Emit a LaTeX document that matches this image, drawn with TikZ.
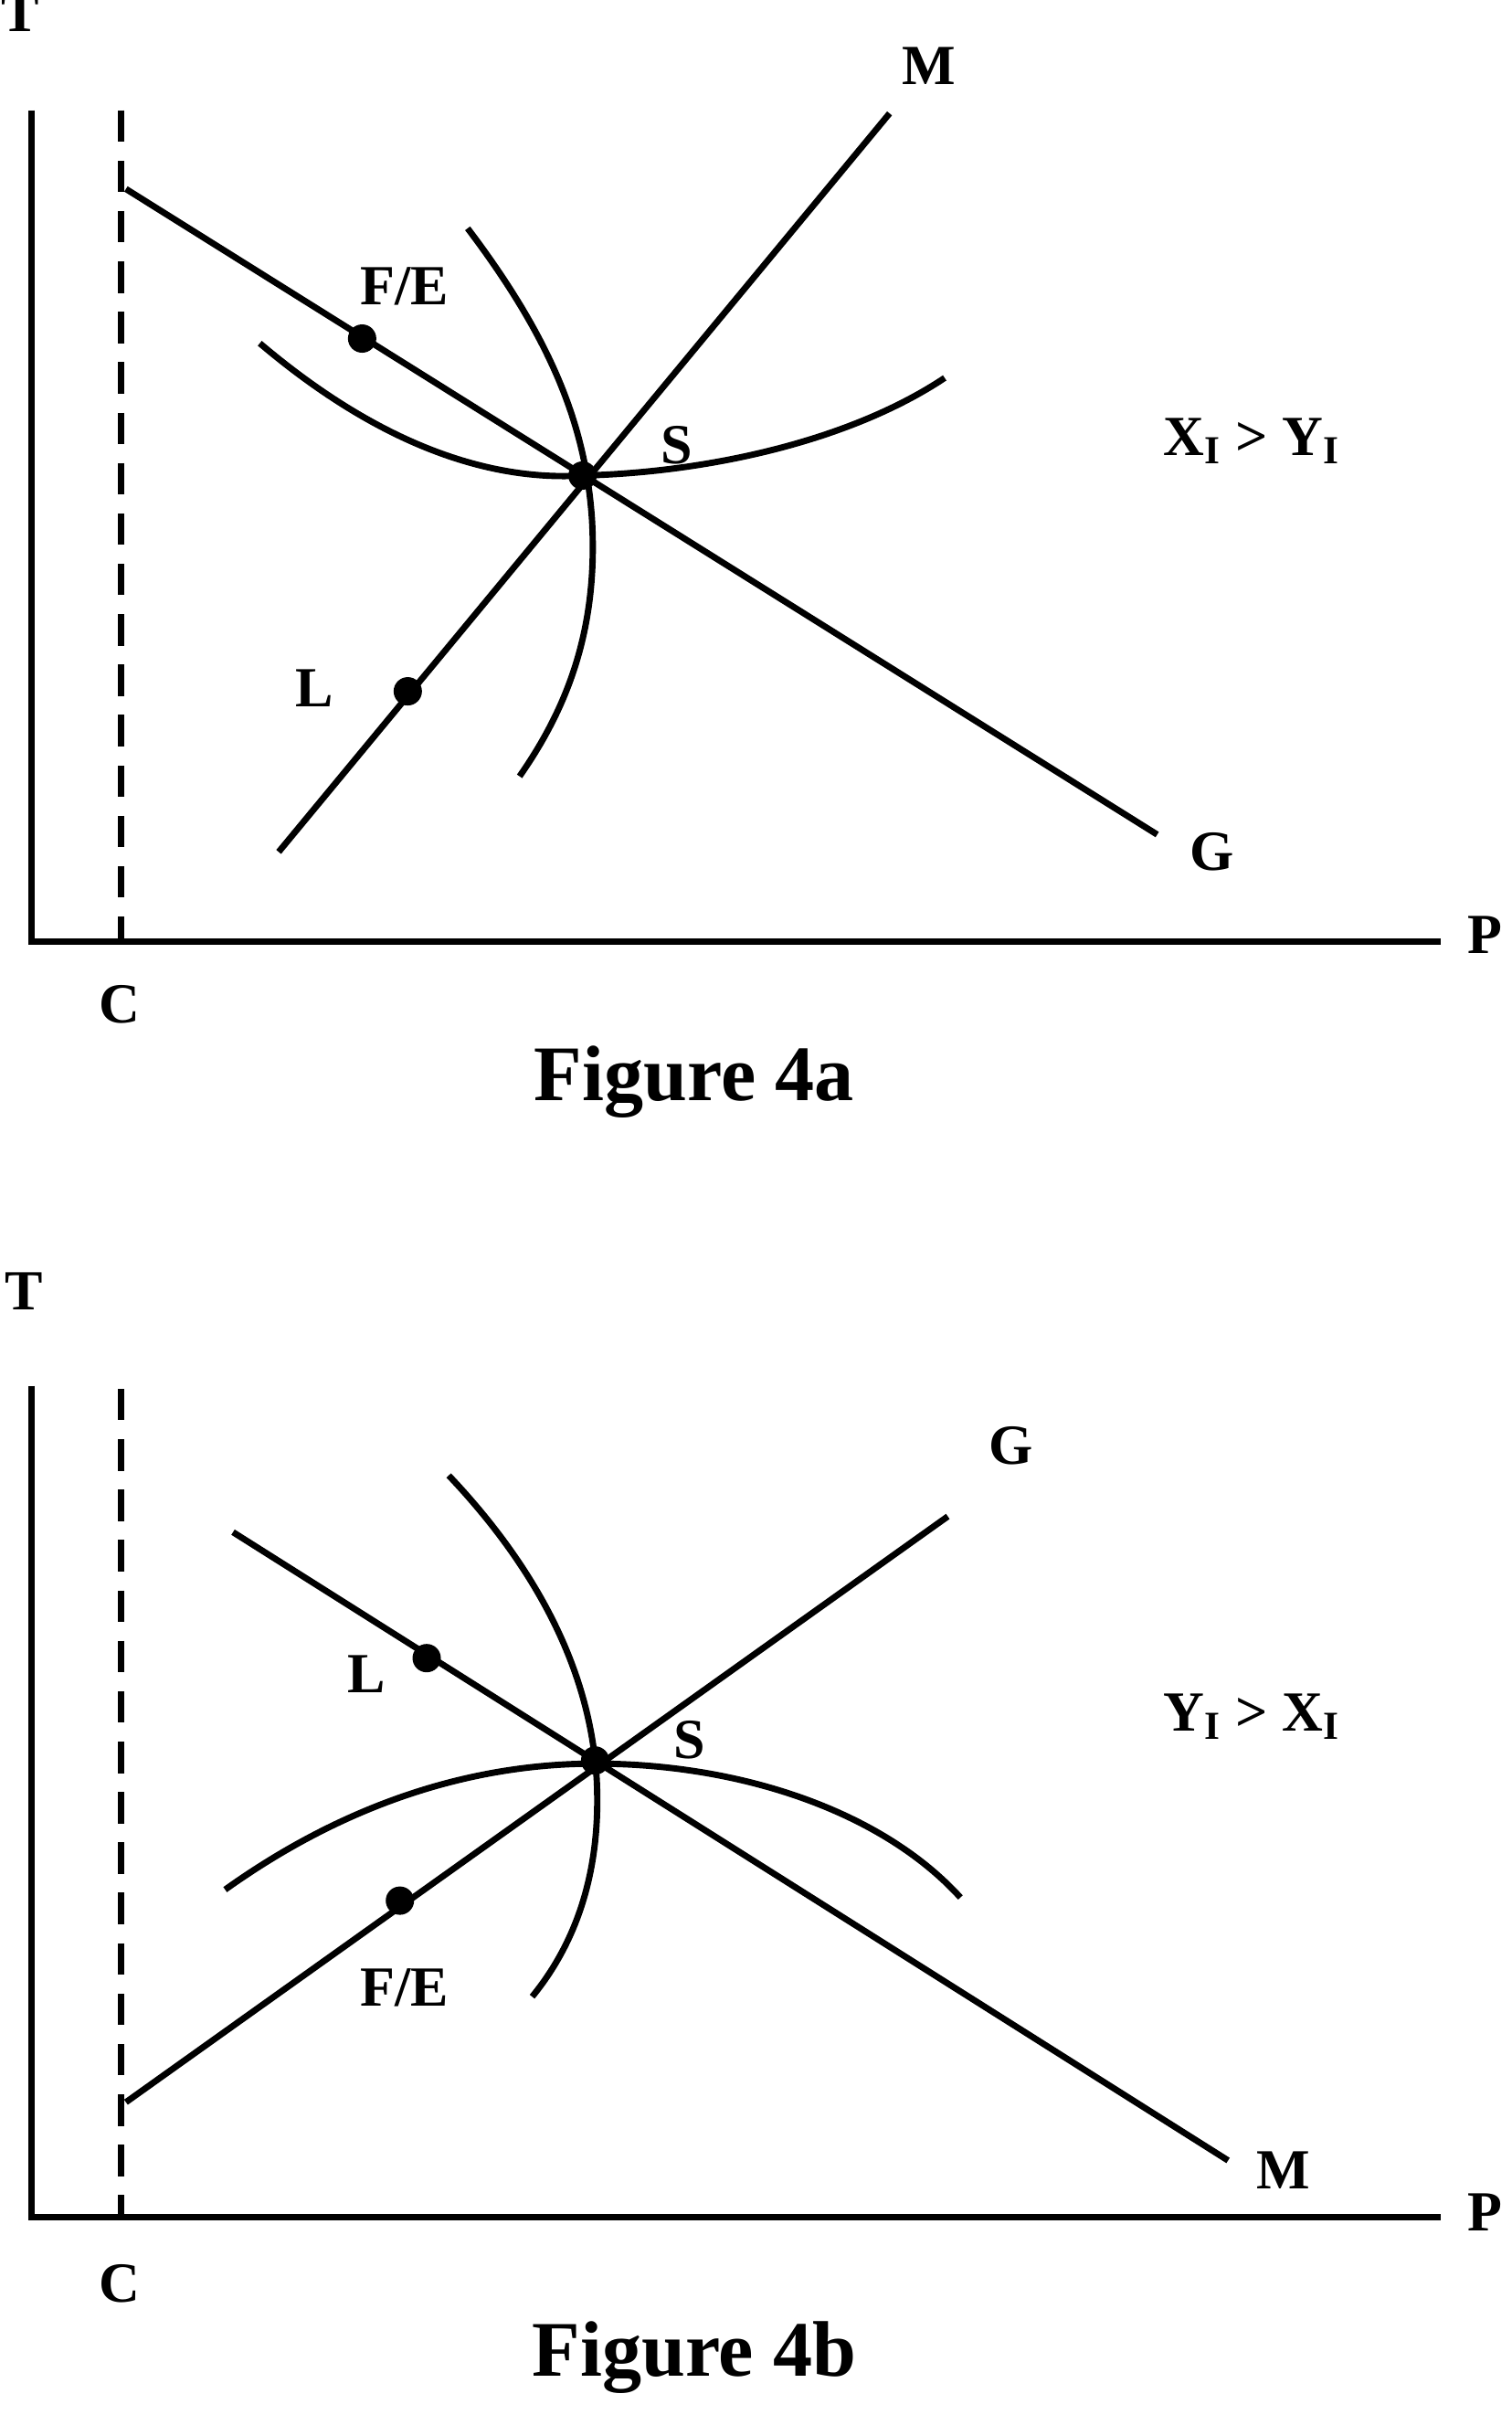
\documentclass[tikz,border=0pt]{standalone}
\usepackage{fontspec}
\setmainfont{Liberation Serif}
\begin{document}
\begin{tikzpicture}[x=0.5pt,y=-0.5pt,
  ln/.style={line width=2pt},
  dsh/.style={line width=2pt,dash pattern=on 10pt off 6pt},
  lbl/.style={font=\bfseries\fontsize{18}{20}\selectfont,inner sep=0pt},
  figcap/.style={font=\bfseries\fontsize{25}{28}\selectfont,inner sep=0pt},
  dot/.style={circle,fill=black,inner sep=0pt,minimum size=9pt}]
\useasboundingbox (0,0) rectangle (960,1547);
% Figure 4a
\coordinate (a0) at (20,70); \coordinate (aO) at (20,598); \coordinate (aX) at (915,598);
\draw[ln] (a0) -- (aO) -- (aX);
\coordinate (ad1) at (77,70); \coordinate (ad2) at (77,598);
\draw[dsh] (ad1) -- (ad2);
\coordinate (ag1) at (80,120); \coordinate (ag2) at (735,530);
\coordinate (am1) at (177,541); \coordinate (am2) at (565,72);
\draw[ln] (ag1) -- (ag2);
\draw[ln] (am1) -- (am2);
\draw[ln] (165,218) .. controls (250,290) and (320,305) .. (370,302) .. controls (450,300) and (540,280) .. (600,240);
\draw[ln] (297,145) .. controls (350,215) and (372,270) .. (376,330) .. controls (380,400) and (360,450) .. (330,493);
\node[dot] (afe) at (230,215) {};
\node[dot] (al) at (259,439) {};
\node[dot] (as) at (370,302) {};
\node[lbl] (aT) at (13,8) {T};
\node[lbl] (aM) at (590,42) {M};
\node[lbl] (aFE) at (257,182) {F/E};
\node[lbl] (aS) at (430,283) {S};
\node[lbl] (aL) at (200,437) {L};
\node[lbl] (aG) at (770,541) {G};
\node[lbl] (aP) at (943,594) {P};
\node[lbl] (aC) at (76,638) {C};
\node[lbl] (aXY) at (795,280) {X\textsubscript{I} > Y\textsubscript{I}};
\node[figcap] (acap) at (441,687) {Figure 4a};
% Figure 4b
\coordinate (b0) at (20,880); \coordinate (bO) at (20,1408); \coordinate (bX) at (915,1408);
\draw[ln] (b0) -- (bO) -- (bX);
\coordinate (bd1) at (77,882); \coordinate (bd2) at (77,1408);
\draw[dsh] (bd1) -- (bd2);
\coordinate (bm1) at (148,973); \coordinate (bm2) at (780,1372);
\coordinate (bg1) at (80,1335); \coordinate (bg2) at (602,963);
\draw[ln] (bm1) -- (bm2);
\draw[ln] (bg1) -- (bg2);
\draw[ln] (143,1200) .. controls (220,1145) and (300,1120) .. (378,1120) .. controls (470,1120) and (560,1150) .. (610,1205);
\draw[ln] (285,937) .. controls (340,995) and (375,1060) .. (379,1130) .. controls (382,1190) and (365,1235) .. (338,1268);
\node[dot] (bl) at (271,1053) {};
\node[dot] (bfe) at (254,1207) {};
\node[dot] (bs) at (378,1118) {};
\node[lbl] (bT) at (15,820) {T};
\node[lbl] (bG) at (642,918) {G};
\node[lbl] (bL) at (233,1063) {L};
\node[lbl] (bS) at (438,1105) {S};
\node[lbl] (bYX) at (795,1090) {Y\textsubscript{I} > X\textsubscript{I}};
\node[lbl] (bFE) at (257,1262) {F/E};
\node[lbl] (bM) at (815,1378) {M};
\node[lbl] (bP) at (943,1405) {P};
\node[lbl] (bC) at (76,1450) {C};
\node[figcap] (bcap) at (441,1497) {Figure 4b};
\end{tikzpicture}
\end{document}
